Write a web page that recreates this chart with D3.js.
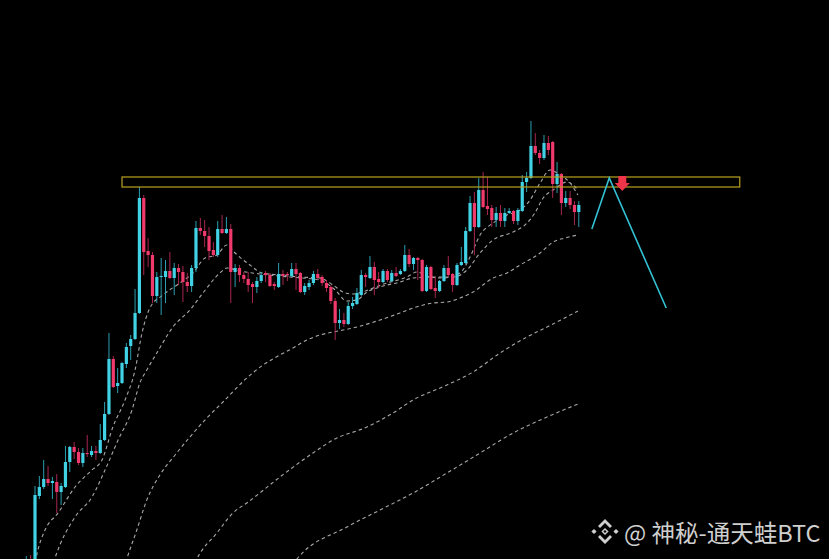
<!DOCTYPE html>
<html>
<head>
<meta charset="utf-8">
<script src="https://cdn.jsdelivr.net/npm/d3@7"></script>
<style>
  html, body { margin: 0; padding: 0; background: #000; overflow: hidden; }
</style>
</head>
<body>
<svg id="chart" width="829" height="559"></svg>
<script>
// candle prices, one entry per bar (index 0 = left edge)
const opens = [10,16.25,15,36,38.25,40.25,39.25,39.5,37,38.25,
  44.5,48.25,47,44.25,46.75,46.25,47.25,46.75,50,56.5,
  70.25,63.5,64.25,69,73.5,75.25,81.75,110.5,97.25,96.25,
  86,90.75,90.75,92.25,90.5,93,92,89.5,88.5,93,
  103,102.25,101,97.5,96.25,102.75,101.75,102.75,92,93,
  91.25,90.25,89,88.25,89.75,91.75,91.25,89,88.25,91.5,
  91.5,91,92.75,91.75,87,88.25,89.25,91.5,90.75,89.25,
  88.25,84.75,79.25,80,79,83.5,84,86.25,91.25,90.5,
  93.25,90.25,89.5,92.25,89.75,91.75,91.5,92.25,96.25,94,
  95.5,95,87.25,93.25,88,87.25,89.75,93,91.5,88.75,
  93.75,94.25,102.25,109.25,103.25,112.5,108.5,108,105,106.75,
  104.75,106.75,107.25,104.75,107.25,114.5,115.5,123.5,121.75,120.5,
  124.25,124.5,114,116.5,109.25,110.5,108.75,107];
const closes = [16.25,12.5,36.25,38.25,40.25,39.25,39.75,37,38.5,44.5,
  48.25,47,44.25,46.75,46.5,47.25,46.75,50,56.5,70.25,
  63.25,64.25,69.25,73.25,75.25,81.75,110.5,97,96.25,86,
  90.75,91,92.25,90.5,93,92,89.5,88.5,93,103,
  102.25,101,97.25,96.25,102.75,101.75,102.75,92,93,91.25,
  90.25,88.75,88.25,89.75,91.25,91.25,88.5,88.5,91.5,91,
  91.25,92.75,91.5,87,88.5,89.25,91.5,90.5,89.25,88,
  84.75,79.25,80,79,83.5,84.25,86.75,91.25,90.75,93.25,
  90,89.5,92.25,90,91.75,91,92.25,96.25,94,95.5,
  95,87.25,93.25,87.75,87.25,89.75,93,91.25,88.75,93.75,
  94.5,102.25,109.25,103.25,112.5,108.25,107.75,105,106.75,104.75,
  106.75,107.25,104.75,107.5,114.5,115.5,123.5,121.75,120.5,124.25,
  122.5,114,116.5,109.25,110.5,108.75,107,108.75];
const highs = [21,21.25,38.5,41,45,43.5,40.75,41.5,39.25,48.5,
  48.5,49.5,48,48,51.25,48.5,48.5,54,59.5,76.75,
  71,68,69.5,74.25,76.25,87.75,113.25,111.25,100.5,97,
  92,95.5,95,97,94.25,94,93.5,91.75,93.75,104.75,
  105.5,105,103.25,99.5,104.75,106.25,105.75,104,94,93.75,
  92,92,89.5,90.75,92,92.25,91.75,89.5,94.25,92.5,
  92,94.25,94.25,92,89.25,90,92.25,92.75,91.25,90,
  88.75,85.5,82.75,81.75,84.5,85.75,88,92.5,91.75,96,
  94.5,92,92.75,92.75,92.5,93.25,92.75,98.75,97.75,95.75,
  95.75,95.25,93.75,93.5,90.75,90,93.75,96,91.75,94.25,
  98.25,103.25,111,112,115.5,117,115.75,108.75,108.25,108.75,
  108,108,107.5,108,116.25,117,129.75,126.75,122.5,126.25,
  126,124.75,119.5,116.75,112.25,112.25,109.75,109.75];
const lows = [7.5,10,13.75,35.25,37.75,38.5,35.25,31.75,33.75,38,
  42,45.25,43.75,43.25,45.75,45.75,45,46.5,49.75,56.25,
  63,61.75,64,68,70,75,81.5,91.25,93.25,84.25,
  84.25,81.25,84.25,90.25,86.25,88.75,84.5,87,87,92,
  101.25,98.25,95,95.75,95.75,101.5,101.5,84.25,88.25,89.5,
  89.25,87,84.25,86.75,89.25,89.5,88.25,87.5,88,88.75,
  89.75,90.75,87.5,86.75,86.25,87.5,88.75,90,88.5,87,
  84,75,77.75,78.25,78.75,82.75,83.75,86,88.25,90.25,
  86.25,88,89.25,89.5,89.5,90.75,91.25,92,93.25,92.5,
  90,87,87,87.5,85.5,87,89.5,90.75,87,88.5,
  93.5,94,102,96.25,103,108,106.25,103.25,103.25,103.25,
  103.25,106.5,104,103.75,107,112,115.25,121.25,119,120,
  121.25,110.5,111.75,106.25,108.25,107.75,103.75,103.25];

// moving averages as [bar index, price]
const maFast = [[1.5,16.25],[2.5,21.75],[4.3,27.5],[7.3,31.75],[11.2,38.25],[15.1,42.5],[17.4,45],
  [19.9,53.25],[22.7,60],[25,67.5],[26.6,76.75],[28.4,83],[31.4,86.25],[35.3,89.25],[38.3,91.75],
  [41.1,95.5],[43.8,96.25],[46.1,98.75],[48,96.75],[51.4,93.75],[54.2,91.75],[58.3,91.25],[62.9,90.75],
  [67.5,90.5],[70.5,88.75],[72.8,87],[74.9,86.5],[77.2,87],[79.7,88],[82.9,89.25],[87.5,90.75],
  [89.8,92],[92.8,90.75],[95.8,90.5],[99.7,91.75],[102,95.75],[104.3,101.25],[107.3,104.25],
  [110.5,106.25],[113.5,107.5],[115.8,110],[118.1,114.25],[120.4,117.5],[122.7,116.25],[125,114.25],[126.8,111.25]];
const maMid = [[5.4,16.25],[6.6,20.5],[11.2,30.75],[15.1,35.75],[18.1,42.5],[21.1,50],[24.3,57.5],
  [26.1,64.25],[27.7,67.5],[30,71.75],[33.7,78.25],[37.6,82.5],[40.6,86.75],[44.5,91.75],[46.1,93],
  [49.1,92.25],[53.7,91.5],[60.6,90.75],[67.5,90],[71,87.5],[73.7,84.75],[76,85],[78.3,87],[81.3,88.25],
  [85.9,89.5],[88.9,90.5],[93.5,90.75],[98.1,90.75],[101.3,92.5],[104.3,96.75],[107.3,100],[111.9,102],
  [115.1,104.25],[116.9,106.75],[118.8,110.5],[121.1,112.5],[124.3,114.5],[126.8,112.5]];
const maSlow = [[22,16.25],[23.1,20.25],[25.4,27.5],[27.7,35],[30.7,41.25],[34.2,46.25],[37.6,50.75],
  [41.5,55.5],[45.2,59.5],[50.7,65.5],[54.4,68.75],[58.3,71.25],[61.3,73],[64.5,75],[67.5,76.25],
  [70.5,77],[75.1,78],[81.3,80],[85.9,81.75],[88.9,83],[93.5,84.25],[96.7,84.5],[99.7,85.5],
  [102.7,87],[107.3,90.5],[110.5,91.75],[113.5,93.75],[118.1,96.75],[121.1,99.5],[123.8,100.5],[126.8,101.25]];
const maLong = [[37.6,16.25],[39.2,20.25],[43.8,26.75],[47.5,31.75],[51,34.5],[58.3,40.75],[65.9,46.75],
  [70.5,50],[78.3,53.25],[84.3,56.75],[88.9,60],[96.7,63.75],[102.7,67],[108.9,71.75],[115.1,75.75],
  [119.7,78.25],[126.8,82.25]];
const maLongest = [[59.5,16.25],[62.2,20.25],[73.7,28.25],[81.3,32.5],[88.9,36.75],[96.7,41.75],
  [104.3,46.75],[111.9,51.75],[119.7,55.75],[126.8,59]];

// resistance zone, projected path and sell signal
const zoneSpan = [22, 164];
const zoneLevels = [113.25, 115.75];
const projection = [[130, 102.75], [134, 115.5], [147.1, 83]];
const signal = [137, 116];
const watermarkText = "@ 神秘-通天蛙BTC";

const svg = d3.select("#chart");
const width = +svg.attr("width");
const height = +svg.attr("height");

svg.append("rect").attr("width", width).attr("height", height).attr("fill", "#000");

const x = d3.scaleLinear().domain([0, opens.length - 1]).range([26.3, 578.8]);
const y = d3.scaleLinear().domain([0, 160]).range([640, 0]);

const plot = svg.append("g");

// dashed moving averages
const maLine = d3.line().x(d => x(d[0])).y(d => y(d[1])).curve(d3.curveMonotoneX);
[maLongest, maLong, maSlow, maMid, maFast].forEach(pts => {
  plot.append("path")
    .attr("d", maLine(pts))
    .attr("fill", "none")
    .attr("stroke", "#a8a8a8")
    .attr("stroke-width", 1.1)
    .attr("stroke-dasharray", "3.5,3");
});

// candles
const bars = d3.range(opens.length).map(i => ({
  i, o: opens[i], c: closes[i], h: highs[i], l: lows[i], up: closes[i] >= opens[i]
}));
const bodyW = 3.2;

const candle = plot.selectAll(".candle")
  .data(bars)
  .enter()
  .append("g")
  .attr("class", "candle");

candle.append("line")
  .attr("x1", d => x(d.i))
  .attr("x2", d => x(d.i))
  .attr("y1", d => y(d.h))
  .attr("y2", d => y(d.l))
  .attr("stroke", d => d.up ? "#2a9fb0" : "#a8264f")
  .attr("stroke-width", 1);

candle.append("rect")
  .attr("x", d => x(d.i) - bodyW / 2)
  .attr("y", d => y(Math.max(d.o, d.c)))
  .attr("width", bodyW)
  .attr("height", d => Math.max(1, Math.abs(y(d.o) - y(d.c))))
  .attr("fill", d => d.up ? "#41d2e6" : "#f03a6c");

// resistance box
plot.append("rect")
  .attr("x", x(zoneSpan[0]))
  .attr("y", y(zoneLevels[1]))
  .attr("width", x(zoneSpan[1]) - x(zoneSpan[0]))
  .attr("height", y(zoneLevels[0]) - y(zoneLevels[1]))
  .attr("fill", "none")
  .attr("stroke", "#b9a21f")
  .attr("stroke-width", 1.2);

// projected move
plot.append("path")
  .attr("d", d3.line().x(d => x(d[0])).y(d => y(d[1]))(projection))
  .attr("fill", "none")
  .attr("stroke", "#33c2d4")
  .attr("stroke-width", 1.6);

// down arrow
const ax = x(signal[0]);
const ay = y(signal[1]);
plot.append("path")
  .attr("d", `M${ax - 4},${ay} L${ax + 4},${ay} L${ax + 4},${ay + 7} L${ax + 7.5},${ay + 7} L${ax},${ay + 15} L${ax - 7.5},${ay + 7} L${ax - 4},${ay + 7} Z`)
  .attr("fill", "#ee3448");

// watermark: logo + handle
const wm = svg.append("g").attr("fill", "#cfcfcf");
const lx = 605, ly = 531.5;
const diamond = (cx, cy, r) => `M${cx},${cy - r} L${cx + r},${cy} L${cx},${cy + r} L${cx - r},${cy} Z`;
wm.append("path").attr("d", diamond(lx - 11, ly, 2.6));
wm.append("path").attr("d", diamond(lx + 11, ly, 2.6));
wm.append("path").attr("d", diamond(lx, ly, 3.6) + " " + diamond(lx, ly, 1.6)).attr("fill-rule", "evenodd");
wm.append("path").attr("d", `M${lx},${ly - 12.5} L${lx + 7},${ly - 5.5} L${lx + 5},${ly - 3.5} L${lx},${ly - 8.5} L${lx - 5},${ly - 3.5} L${lx - 7},${ly - 5.5} Z`);
wm.append("path").attr("d", `M${lx},${ly + 12.5} L${lx + 7},${ly + 5.5} L${lx + 5},${ly + 3.5} L${lx},${ly + 8.5} L${lx - 5},${ly + 3.5} L${lx - 7},${ly + 5.5} Z`);

wm.append("text")
  .attr("x", 624)
  .attr("y", 541.5)
  .attr("font-family", "'Noto Sans CJK SC', 'Noto Sans', sans-serif")
  .attr("font-size", 23.5)
  .attr("fill", "#cfcfcf")
  .text(watermarkText);
</script>
</body>
</html>
